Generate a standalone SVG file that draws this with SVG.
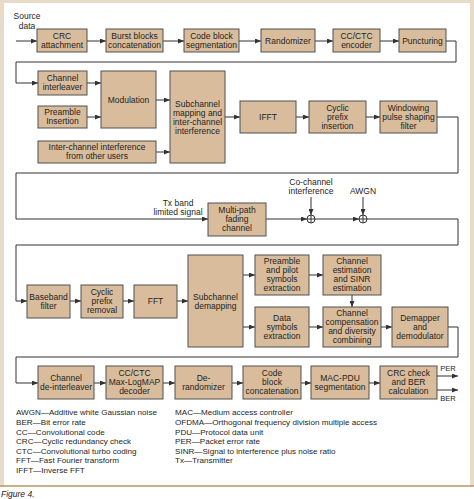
<svg xmlns="http://www.w3.org/2000/svg" width="474" height="499" viewBox="0 0 474 499">
<style>
.b{fill:#d9bc9c;stroke:#505050;stroke-width:1}
.t{font-family:"Liberation Sans",Arial,sans-serif;font-size:8.5px;fill:#1e1e1e;text-anchor:middle}
.l{font-family:"Liberation Sans",Arial,sans-serif;font-size:8.1px;fill:#1e1e1e}
.c{fill:none;stroke:#333;stroke-width:1}
.a{fill:none;stroke:#333;stroke-width:1;marker-end:url(#ah)}
</style>
<defs>
<marker id="ah" markerUnits="userSpaceOnUse" markerWidth="6" markerHeight="5" refX="6" refY="2.5" orient="auto">
<path d="M0,0 L6,2.5 L0,5 z" fill="#333"/>
</marker>
</defs>
<rect x="0" y="0" width="474" height="486" fill="#e8dcc9"/>
<rect x="4" y="3" width="466" height="483" fill="#ffffff"/>
<rect x="0" y="486" width="474" height="13" fill="#ffffff"/>
<line x1="0" y1="486" x2="474" y2="486" stroke="#b8965f" stroke-width="1.5"/>
<text x="1" y="497" style="font-family:'Liberation Sans',Arial,sans-serif;font-size:8.5px;font-style:italic;fill:#222">Figure 4.</text>

<g id="source"><text class="t" x="27" y="19">Source</text><text class="t" x="27" y="28.5">data</text></g>

<g id="connectors">
<path class="a" d="M16,41 H37"/>
<path class="a" d="M87,41 H106"/>
<path class="a" d="M163,41 H184"/>
<path class="a" d="M239,41 H261"/>
<path class="a" d="M315,41 H333"/>
<path class="a" d="M380,41 H399"/>
<path class="a" d="M446,41 H456 V62 H16 V83 H38"/>
<path class="a" d="M87,83 H101"/>
<path class="a" d="M87,117 H101"/>
<path class="a" d="M156,100 H170"/>
<path class="a" d="M156,152 H170"/>
<path class="a" d="M225,117 H240"/>
<path class="a" d="M296,117 H309"/>
<path class="a" d="M366,117 H380"/>
<path class="a" d="M437,117 H458 V173 H16 V219 H208"/>
<path class="a" d="M266,219 H307"/>
<path class="a" d="M315,219 H359"/>
<path class="a" d="M311,197 V215"/>
<path class="a" d="M363,197 V215"/>
<path class="a" d="M367,219 H458 V245 H16 V301 H27"/>
<path class="a" d="M70,301 H81"/>
<path class="a" d="M123,301 H134"/>
<path class="a" d="M177,301 H188"/>
<path class="a" d="M243,275 H255"/>
<path class="a" d="M243,327 H255"/>
<path class="a" d="M309,275 H323"/>
<path class="a" d="M309,327 H323"/>
<path class="a" d="M352,295 V307"/>
<path class="a" d="M381,327 H392"/>
<path class="a" d="M448,327 H458 V357 H16 V383 H38"/>
<path class="a" d="M94,383 H106"/>
<path class="a" d="M163,383 H175"/>
<path class="a" d="M232,383 H243"/>
<path class="a" d="M301,383 H311"/>
<path class="a" d="M369,383 H380"/>
<path class="a" d="M437,376 H458"/>
<path class="a" d="M437,390 H458"/>
</g>

<g id="crc"><rect class="b" x="37" y="29" width="50" height="23"/><text class="t" x="62" y="39">CRC</text><text class="t" x="62" y="48">attachment</text></g>
<g id="burst"><rect class="b" x="106" y="29" width="57" height="23"/><text class="t" x="134.5" y="39">Burst blocks</text><text class="t" x="134.5" y="48">concatenation</text></g>
<g id="codeseg"><rect class="b" x="184" y="29" width="55" height="23"/><text class="t" x="211.5" y="39">Code block</text><text class="t" x="211.5" y="48">segmentation</text></g>
<g id="rand"><rect class="b" x="261" y="29" width="54" height="23"/><text class="t" x="288" y="44">Randomizer</text></g>
<g id="enc"><rect class="b" x="333" y="29" width="47" height="23"/><text class="t" x="356.5" y="39">CC/CTC</text><text class="t" x="356.5" y="48">encoder</text></g>
<g id="punct"><rect class="b" x="399" y="29" width="47" height="23"/><text class="t" x="422.5" y="44">Puncturing</text></g>

<g id="chint"><rect class="b" x="38" y="71" width="49" height="24"/><text class="t" x="62.5" y="81">Channel</text><text class="t" x="62.5" y="90">interleaver</text></g>
<g id="pre"><rect class="b" x="38" y="106" width="49" height="22"/><text class="t" x="62.5" y="115">Preamble</text><text class="t" x="62.5" y="124">Insertion</text></g>
<g id="mod"><rect class="b" x="101" y="71" width="55" height="57"/><text class="t" x="128.5" y="103">Modulation</text></g>
<g id="submap"><rect class="b" x="170" y="71" width="55" height="92"/><text class="t" x="197.5" y="107">Subchannel</text><text class="t" x="197.5" y="116">mapping and</text><text class="t" x="197.5" y="125">inter-channel</text><text class="t" x="197.5" y="134">interference</text></g>
<g id="ici"><rect class="b" x="38" y="141" width="118" height="22"/><text class="t" x="97" y="150">Inter-channel interference</text><text class="t" x="97" y="159">from other users</text></g>
<g id="ifft"><rect class="b" x="240" y="101" width="56" height="32"/><text class="t" x="268" y="120">IFFT</text></g>
<g id="cpi"><rect class="b" x="309" y="101" width="57" height="32"/><text class="t" x="337.5" y="111">Cyclic</text><text class="t" x="337.5" y="120">prefix</text><text class="t" x="337.5" y="129">insertion</text></g>
<g id="win"><rect class="b" x="380" y="101" width="57" height="32"/><text class="t" x="408.5" y="111">Windowing</text><text class="t" x="408.5" y="120">pulse shaping</text><text class="t" x="408.5" y="129">filter</text></g>

<g id="txlabel"><text class="t" x="178" y="206">Tx band</text><text class="t" x="178" y="215">limited signal</text></g>
<g id="mpath"><rect class="b" x="208" y="203" width="58" height="33"/><text class="t" x="237" y="213">Multi-path</text><text class="t" x="237" y="222">fading</text><text class="t" x="237" y="231">channel</text></g>
<g id="sum1"><circle cx="311" cy="219" r="4" fill="#fff" stroke="#333"/><path class="c" d="M307,219 H315 M311,215 V223"/><text class="t" x="311" y="185">Co-channel</text><text class="t" x="311" y="194">interference</text></g>
<g id="sum2"><circle cx="363" cy="219" r="4" fill="#fff" stroke="#333"/><path class="c" d="M359,219 H367 M363,215 V223"/><text class="t" x="363" y="194">AWGN</text></g>

<g id="bbf"><rect class="b" x="27" y="285" width="43" height="33"/><text class="t" x="48.5" y="300">Baseband</text><text class="t" x="48.5" y="309">filter</text></g>
<g id="cpr"><rect class="b" x="81" y="285" width="42" height="33"/><text class="t" x="102" y="295">Cyclic</text><text class="t" x="102" y="304">prefix</text><text class="t" x="102" y="313">removal</text></g>
<g id="fft"><rect class="b" x="134" y="285" width="43" height="33"/><text class="t" x="155.5" y="304">FFT</text></g>
<g id="subdemap"><rect class="b" x="188" y="255" width="55" height="92"/><text class="t" x="215.5" y="300">Subchannel</text><text class="t" x="215.5" y="309">demapping</text></g>
<g id="pilot"><rect class="b" x="255" y="255" width="54" height="40"/><text class="t" x="282" y="264">Preamble</text><text class="t" x="282" y="273">and pilot</text><text class="t" x="282" y="282">symbols</text><text class="t" x="282" y="291">extraction</text></g>
<g id="chest"><rect class="b" x="323" y="255" width="58" height="40"/><text class="t" x="352" y="264">Channel</text><text class="t" x="352" y="273">estimation</text><text class="t" x="352" y="282">and SINR</text><text class="t" x="352" y="291">estimation</text></g>
<g id="data"><rect class="b" x="255" y="307" width="54" height="40"/><text class="t" x="282" y="321">Data</text><text class="t" x="282" y="330">symbols</text><text class="t" x="282" y="339">extraction</text></g>
<g id="comp"><rect class="b" x="323" y="307" width="58" height="40"/><text class="t" x="352" y="316">Channel</text><text class="t" x="352" y="325">compensation</text><text class="t" x="352" y="334">and diversity</text><text class="t" x="352" y="343">combining</text></g>
<g id="demap"><rect class="b" x="392" y="307" width="56" height="40"/><text class="t" x="420" y="321">Demapper</text><text class="t" x="420" y="330">and</text><text class="t" x="420" y="339">demodulator</text></g>

<g id="deint"><rect class="b" x="38" y="366" width="56" height="33"/><text class="t" x="66" y="381">Channel</text><text class="t" x="66" y="390">de-interleaver</text></g>
<g id="dec"><rect class="b" x="106" y="366" width="57" height="33"/><text class="t" x="134.5" y="376">CC/CTC</text><text class="t" x="134.5" y="385">Max-LogMAP</text><text class="t" x="134.5" y="394">decoder</text></g>
<g id="derand"><rect class="b" x="175" y="366" width="57" height="33"/><text class="t" x="203.5" y="381">De-</text><text class="t" x="203.5" y="390">randomizer</text></g>
<g id="cbc"><rect class="b" x="243" y="366" width="58" height="33"/><text class="t" x="272" y="376">Code</text><text class="t" x="272" y="385">block</text><text class="t" x="272" y="394">concatenation</text></g>
<g id="macpdu"><rect class="b" x="311" y="366" width="58" height="33"/><text class="t" x="340" y="381">MAC-PDU</text><text class="t" x="340" y="390">segmentation</text></g>
<g id="crcchk"><rect class="b" x="380" y="366" width="57" height="33"/><text class="t" x="408.5" y="376">CRC check</text><text class="t" x="408.5" y="385">and BER</text><text class="t" x="408.5" y="394">calculation</text></g>
<g id="outs"><text class="t" x="448" y="371" style="font-size:7.5px">PER</text><text class="t" x="448" y="401" style="font-size:7.5px">BER</text></g>

<g id="legend">
<text class="l" x="16" y="415.3">AWGN—Additive white Gaussian noise</text>
<text class="l" x="16" y="424.9">BER—Bit error rate</text>
<text class="l" x="16" y="434.5">CC—Convolutional code</text>
<text class="l" x="16" y="444.1">CRC—Cyclic redundancy check</text>
<text class="l" x="16" y="453.7">CTC—Convolutional turbo coding</text>
<text class="l" x="16" y="463.3">FFT—Fast Fourier transform</text>
<text class="l" x="16" y="472.9">IFFT—Inverse FFT</text>
<text class="l" x="175" y="415.3">MAC—Medium access controller</text>
<text class="l" x="175" y="424.9">OFDMA—Orthogonal frequency division multiple access</text>
<text class="l" x="175" y="434.5">PDU—Protocol data unit</text>
<text class="l" x="175" y="444.1">PER—Packet error rate</text>
<text class="l" x="175" y="453.7">SINR—Signal to interference plus noise ratio</text>
<text class="l" x="175" y="463.3">Tx—Transmitter</text>
</g>
</svg>
